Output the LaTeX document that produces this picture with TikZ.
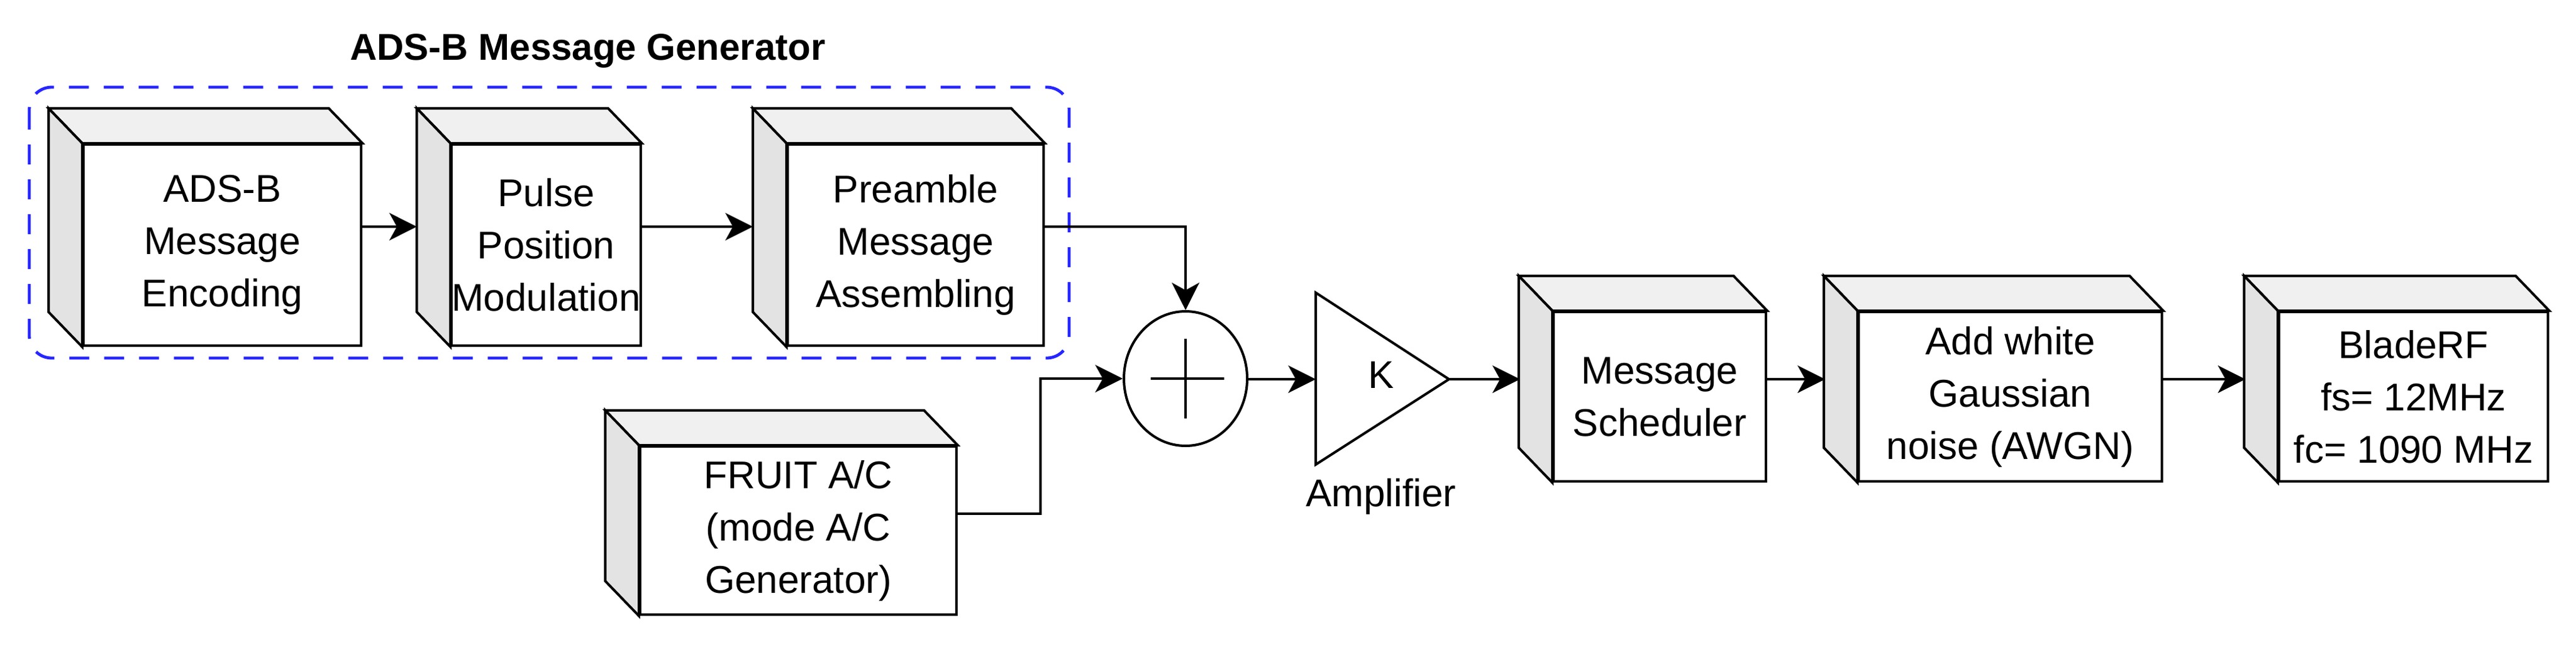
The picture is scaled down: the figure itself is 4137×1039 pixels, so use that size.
\documentclass[tikz,border=0pt]{standalone}
\usepackage{fontspec}
\setmainfont{Liberation Sans}
\usetikzlibrary{arrows.meta,shapes.geometric}

\begin{document}
\begin{tikzpicture}[x=0.25pt,y=-0.25pt]
    % styles
    \tikzset{block/.style = {shape=rectangle,draw,line width=1pt,fill=white,
        align=center,font=\fontsize{15.5}{21}\selectfont,minimum height=80.75pt,inner sep=0pt}}
    \tikzset{pre/.style = {-{Stealth[length=11pt,width=11pt,inset=3pt]},line width=1pt}}
    \tikzset{group/.style = {draw=blue!85,line width=1.2pt,dash pattern=on 8pt off 6pt,rounded corners=9pt}}
    \useasboundingbox (0,0) rectangle (4137,1039);

    % group
    \draw[group] (47,140) rectangle (1717,575);
    \node[font=\bfseries\fontsize{15}{17}\selectfont] (title) at (944,82) {ADS-B Message Generator};

    % blocks (front faces)
    \node[block,minimum width=111.5pt] (enc)  at (357,393.5)  {ADS-B\\Message\\Encoding};
    \node[block,minimum width=75.5pt]  (ppm)  at (877,393.5)  {Pulse\\Position\\Modulation};
    \node[block,minimum width=102.75pt] (pre) at (1470.5,393.5) {Preamble\\Message\\Assembling};
    \node[block,minimum width=127pt,minimum height=67.5pt] (fruit) at (1282,852) {FRUIT A/C\\(mode A/C\\Generator)};
    \node[block,minimum width=85.25pt,minimum height=68pt] (sched) at (2665.5,637) {Message\\Scheduler};
    \node[block,minimum width=121.75pt,minimum height=68pt] (awgn)  at (3228.5,637) {Add white\\Gaussian\\noise (AWGN)};
    \node[block,minimum width=108pt,minimum height=68pt] (blade) at (3876,637) {BladeRF\\fs= 12MHz\\fc= 1090 MHz};

    % depth faces
    \foreach \b in {enc,ppm,pre,fruit,sched,awgn,blade} {
      \filldraw[fill=gray!12,line width=1pt] (\b.north west) -- ++(-54,-56) -- ([xshift=-13.5pt,yshift=14pt]\b.north east) -- (\b.north east) -- cycle;
      \filldraw[fill=gray!22,line width=1pt] (\b.north west) -- ++(-54,-56) -- ([xshift=-13.5pt,yshift=14pt]\b.south west) -- (\b.south west) -- cycle;
    }

    % summing junction and amplifier
    \node[ellipse,draw,line width=1pt,minimum width=49.5pt,minimum height=54pt] (sum) at (1904,608) {};
    \draw[line width=1pt] ([xshift=-14pt]sum.center) -- ([xshift=15.5pt]sum.center)
        ([yshift=16pt]sum.center) -- ([yshift=-16pt]sum.center);
    \coordinate (ampin)  at (2113,609);
    \coordinate (ampout) at (2327,609);
    \draw[line width=1pt] (2113,470) -- (ampout) -- (2113,746) -- cycle;
    \node[font=\fontsize{15.5}{17}\selectfont] (k) at (2218,602) {K};
    \node[font=\fontsize{15.5}{17}\selectfont] (amplabel) at (2218,797) {Amplifier};

    % connections
    \coordinate (r1) at (0,364);
    \draw[pre] (enc.east |- r1) -- ([xshift=-13.5pt]ppm.west |- r1);
    \draw[pre] (ppm.east |- r1) -- ([xshift=-13.5pt]pre.west |- r1);
    \draw[pre] (pre.east |- r1) -| (sum.north);
    \draw[pre] (fruit.east |- 0,825) -| (1671,608) -- (sum.west);
    \draw[pre] (sum.east |- ampin) -- (ampin);
    \draw[pre] (ampout) -- ([xshift=-13pt]sched.west |- ampout);
    \draw[pre] (sched.east |- ampout) -- ([xshift=-13pt]awgn.west |- ampout);
    \draw[pre] (awgn.east |- ampout) -- ([xshift=-13pt]blade.west |- ampout);
\end{tikzpicture}
\end{document}
